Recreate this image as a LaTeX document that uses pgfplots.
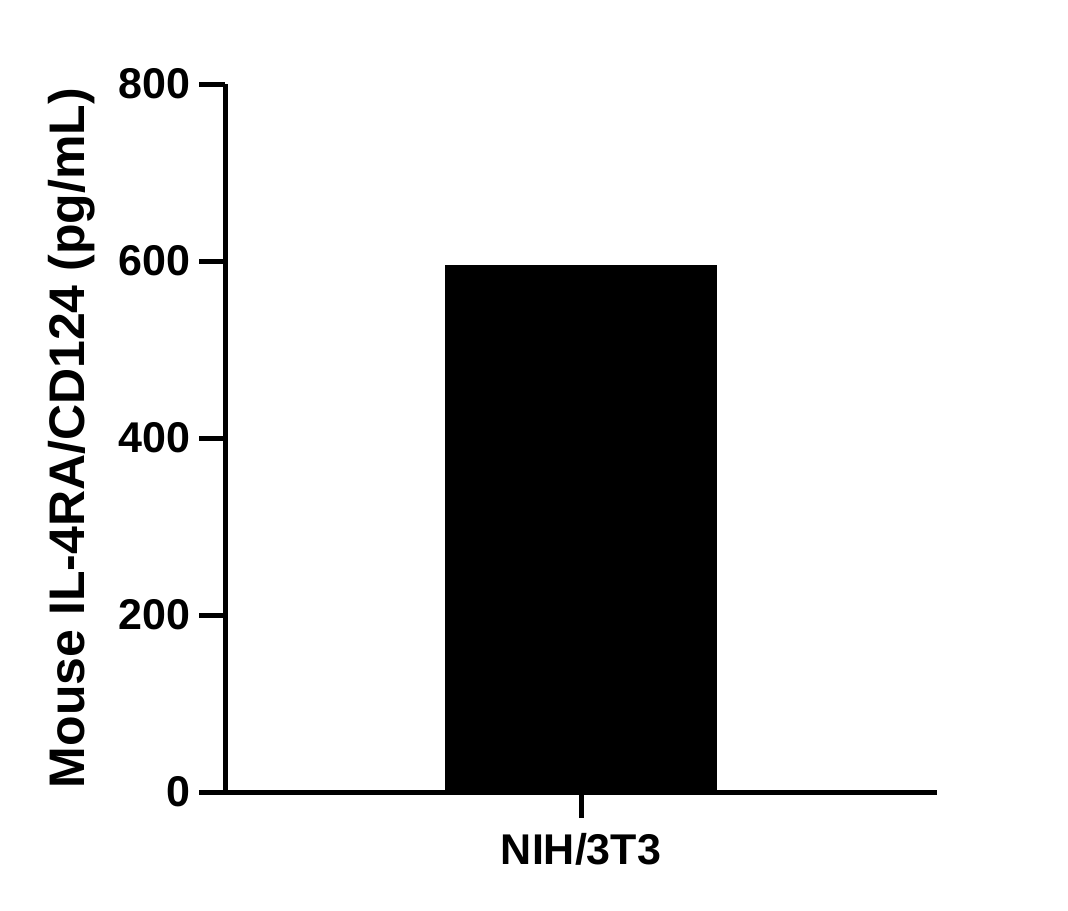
\documentclass[border=0pt]{standalone}
\usepackage{pgfplots}
\pgfplotsset{compat=1.18}
\usepackage{fontspec}
\setmainfont{Liberation Sans}

\begin{document}
\begin{tikzpicture}
% page size: 1068 x 910 px at 0.5pt per px
\path[use as bounding box] (0,0) rectangle (534pt,455pt);
\begin{axis}[
    at={(112.5pt,59pt)},
    anchor=south west,
    scale only axis,
    width=356pt,
    height=354pt,
    ybar,
    bar width=0.764,
    xmin=-1, xmax=1,
    ymin=0, ymax=800,
    xtick={0},
    xticklabels={NIH/3T3},
    ytick={0,200,400,600,800},
    axis x line=bottom,
    axis y line=left,
    axis line style={-, line width=2.5pt},
    every tick/.style={black, line width=2.5pt},
    tick align=outside,
    major tick length=13pt,
    /pgf/number format/assume math mode=true,
    tick label style={font=\fontsize{21.5}{25}\selectfont\bfseries},
    yticklabel style={xshift=-1pt},
    xticklabel style={yshift=-4pt},
    ylabel={Mouse IL-4RA/CD124 (pg/mL)},
    ylabel style={font=\fontsize{25}{29}\selectfont\bfseries, yshift=4.5pt},
    clip=false,
]
\addplot[fill=black, draw=none] coordinates {(0,596)};
\end{axis}
\end{tikzpicture}
\end{document}
